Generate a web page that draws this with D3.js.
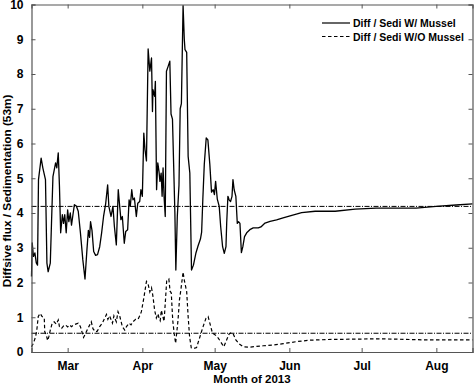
<!DOCTYPE html>
<html>
<head>
<meta charset="utf-8">
<script src="https://cdn.jsdelivr.net/npm/d3@7"></script>
<style>
  body { margin: 0; background: #fff; }
  text { font-family: "Liberation Sans", Arial, sans-serif; font-weight: bold; fill: #000; }
</style>
</head>
<body>
<div id="main-frame"></div>
<script>
// day of year 2013 (0 = Jan 1)
var withDays = [44.0, 44.3, 44.8, 45.4, 46.0, 46.5, 46.9, 48.0, 48.7, 49.8, 50.4, 50.9, 51.8, 52.3, 52.9, 54.0, 54.5, 55.1, 55.6, 56.1,
  56.8, 57.3, 57.8, 58.4, 59.0, 59.5, 60.1, 60.6, 61.2, 61.8, 62.6, 63.4, 64.3, 65.3, 66.2, 67.0, 67.6, 68.1, 68.5, 69.1,
  69.8, 70.6, 71.4, 72.3, 73.1, 73.9, 74.8, 75.6, 76.1, 77.0, 77.8, 78.4, 79.2, 80.0, 80.6, 81.1, 81.7, 82.5, 83.1, 83.9,
  84.5, 85.0, 85.6, 86.1, 86.7, 87.5, 88.1, 88.9, 89.4, 90.0, 90.6, 91.1, 91.7, 92.4, 93.1, 93.8, 94.2, 94.4, 95.1, 95.4,
  95.9, 96.4, 96.9, 97.3, 97.8, 98.2, 98.6, 99.0, 99.5, 100.0, 100.7, 101.4, 101.9, 102.5, 103.5, 103.9, 104.5, 105.2, 105.7, 106.2,
  106.9, 107.4, 107.7, 108.4, 109.0, 109.7, 110.4, 111.2, 112.2, 113.1, 114.1, 114.6, 115.1, 115.7, 116.5, 117.2, 118.0, 118.7, 119.4, 119.9,
  120.4, 121.1, 121.9, 122.5, 123.3, 124.0, 124.7, 125.0, 125.5, 126.0, 126.6, 127.2, 127.6, 128.1, 128.8, 129.4, 129.9, 130.5, 131.1, 131.7,
  132.4, 133.3, 134.6, 136.0, 138.1, 139.2, 140.9, 143.0, 145.7, 148.4, 151.3, 156.1, 161.7, 170.0, 178.3, 187.0, 195.3, 203.6, 211.9, 220.2, 227.0];
var withMussel = [2.17, 3.14, 2.75, 2.85, 2.56, 2.5, 4.96, 5.58, 5.3, 4.96, 2.56, 2.31, 2.56, 3.71, 5.05, 5.44, 5.3, 5.73, 4.77, 3.43,
  3.95, 3.7, 3.95, 3.43, 4.09, 3.75, 4.0, 3.65, 3.95, 4.24, 4.2, 4.05, 3.43, 2.65, 2.1, 2.94, 3.5, 3.3, 3.75, 3.5,
  2.89, 2.78, 2.8, 3.03, 3.43, 3.9, 4.28, 4.81, 4.19, 3.9, 4.19, 3.61, 3.08, 4.67, 4.19, 3.81, 3.9, 3.13, 3.47, 3.52,
  4.38, 4.19, 4.67, 4.38, 4.43, 3.9, 4.28, 4.33, 4.67, 4.48, 6.3, 5.82, 5.5, 8.72, 8.08, 8.46, 6.92, 7.55, 7.36, 7.79,
  4.67, 5.44, 5.2, 4.91, 5.15, 4.48, 5.3, 4.48, 3.9, 8.08, 8.22, 8.37, 6.85, 6.7, 4.0, 2.36, 3.9, 4.8, 7.0, 7.15,
  9.97, 9.0, 8.7, 8.62, 5.63, 5.15, 2.36, 2.5, 2.84, 3.05, 3.25, 3.45, 4.4, 5.4, 6.16, 6.1, 5.4, 4.6, 4.67, 4.53,
  4.91, 4.4, 4.19, 3.61, 3.03, 2.84, 3.03, 3.71, 4.48, 4.38, 4.33, 4.48, 4.96, 4.67, 4.48, 3.7, 3.75, 3.7, 2.86, 3.03,
  3.32, 3.43, 3.52, 3.57, 3.57, 3.6, 3.71, 3.76, 3.8, 3.86, 3.92, 4.01, 4.05, 4.05, 4.11, 4.14, 4.14, 4.14, 4.19, 4.23, 4.26];

var withoutDays = [44.0, 44.8, 45.7, 46.2, 46.8, 47.6, 48.4, 49.3, 49.5, 50.1, 50.7, 51.2, 51.8, 52.6, 53.4, 54.3, 55.1, 55.6, 56.5, 57.3,
  58.1, 59.0, 59.8, 60.6, 61.5, 62.6, 63.4, 64.3, 65.1, 65.6, 66.2, 67.0, 67.8, 68.8, 69.5, 70.5, 71.3, 72.3, 73.4, 74.4,
  75.1, 75.7, 76.4, 77.6, 78.2, 79.2, 79.9, 80.6, 81.7, 82.7, 83.4, 84.5, 85.3, 86.1, 87.2, 88.2, 88.9, 89.6, 90.6, 91.7,
  92.4, 93.1, 93.8, 94.4, 95.1, 95.8, 96.5, 97.0, 97.4, 97.9, 98.5, 99.0, 99.6, 100.1, 101.0, 101.5, 102.0, 102.6, 103.2, 103.8,
  104.3, 104.8, 105.4, 106.0, 106.9, 107.4, 107.9, 108.4, 109.0, 109.6, 110.3, 111.4, 112.5, 113.9, 115.2, 116.4, 117.3, 118.0, 119.1, 120.1,
  121.5, 122.9, 123.8, 125.0, 126.0, 127.0, 127.7, 128.8, 130.2, 131.9, 134.6, 137.4, 140.2, 144.3, 148.5, 154.1, 159.6, 167.1, 178.3, 187.0,
  195.3, 206.5, 220.2, 227.0];
var withoutMussel = [0.15, 0.25, 0.44, 0.63, 1.02, 1.11, 1.02, 0.98, 0.58, 0.5, 0.33, 0.44, 0.63, 0.83, 0.87, 0.8, 0.92, 0.73, 0.68, 0.75,
  0.78, 0.72, 0.78, 0.73, 0.78, 0.81, 0.83, 0.73, 0.54, 0.42, 0.5, 0.62, 0.73, 0.87, 0.67, 0.58, 0.6, 0.73, 0.83, 0.98,
  1.08, 0.94, 1.04, 0.83, 1.04, 0.87, 1.16, 1.04, 0.73, 0.63, 0.73, 0.83, 0.78, 0.87, 0.94, 0.94, 1.04, 1.16, 1.55, 2.03,
  1.95, 1.73, 1.85, 1.6, 1.2, 0.98, 1.1, 0.95, 0.9, 1.2, 1.02, 0.88, 1.5, 2.05, 2.1, 1.75, 1.7, 0.92, 0.54, 0.25,
  0.58, 0.92, 1.5, 1.8, 2.3, 2.07, 1.9, 1.73, 1.02, 0.44, 0.12, 0.1, 0.13, 0.44, 0.73, 0.97, 1.02, 0.83, 0.54, 0.5,
  0.4, 0.25, 0.15, 0.35, 0.52, 0.56, 0.52, 0.35, 0.23, 0.15, 0.14, 0.16, 0.18, 0.2, 0.24, 0.3, 0.34, 0.36, 0.37, 0.38,
  0.37, 0.35, 0.35, 0.35];

var meanWith = 4.19;
var meanWithout = 0.54;

var monthLabels = ["Mar", "Apr", "May", "Jun", "Jul", "Aug"];
var legendLabels = ["Diff / Sedi W/ Mussel", "Diff / Sedi W/O Mussel"];
var yTicks = [0, 1, 2, 3, 4, 5, 6, 7, 8, 9, 10];

var svgW = 474, svgH = 384;
var plotL = 31.5, plotR = 472.5, plotT = 4.5, plotB = 352;
var day0 = Date.UTC(2013, 0, 1);

function toDate(d) { return new Date(day0 + d * 864e5); }

var x = d3.scaleUtc()
  .domain([new Date(Date.UTC(2013, 1, 14)), new Date(Date.UTC(2013, 7, 16))])
  .range([plotL, plotR]);
var y = d3.scaleLinear().domain([0, 10]).range([plotB, plotT]);
var monthTicks = d3.range(2, 8).map(function(m) { return new Date(Date.UTC(2013, m, 1)); });

var svg = d3.select("#main-frame").append("svg")
  .attr("width", svgW)
  .attr("height", svgH);

// mean lines
[meanWith, meanWithout].forEach(function(v) {
  svg.append("line")
    .attr("x1", plotL).attr("x2", plotR)
    .attr("y1", y(v)).attr("y2", y(v))
    .style("stroke", "#000")
    .style("stroke-width", 1)
    .style("stroke-dasharray", "5,1.5,1,1.5");
});

var line = d3.line()
  .x(function(d) { return x(toDate(d[0])); })
  .y(function(d) { return y(d[1]); });

svg.append("path")
  .datum(d3.zip(withoutDays, withoutMussel))
  .attr("d", line)
  .style("fill", "none")
  .style("stroke", "#000")
  .style("stroke-width", 1.2)
  .style("stroke-dasharray", "3.5,2.5");

svg.append("path")
  .datum(d3.zip(withDays, withMussel))
  .attr("d", line)
  .style("fill", "none")
  .style("stroke", "#000")
  .style("stroke-width", 1.3)
  .style("stroke-linejoin", "round");

// axes, matlab style ticks pointing in
var tickLen = 4;
svg.append("g").attr("transform", "translate(0," + plotB + ")")
  .call(d3.axisBottom(x).tickValues(monthTicks).tickSize(-tickLen).tickPadding(9)
    .tickFormat(function(d, i) { return monthLabels[i]; }));
svg.append("g").attr("transform", "translate(0," + plotT + ")")
  .call(d3.axisTop(x).tickValues(monthTicks).tickSize(-tickLen).tickFormat(""));
svg.append("g").attr("transform", "translate(" + plotL + ",0)")
  .call(d3.axisLeft(y).tickValues(yTicks).tickSize(-tickLen).tickPadding(8));
svg.append("g").attr("transform", "translate(" + plotR + ",0)")
  .call(d3.axisRight(y).tickValues(yTicks).tickSize(-tickLen).tickFormat(""));

svg.selectAll(".domain").style("stroke", "#555").style("stroke-width", 1.2);
svg.selectAll(".tick line").style("stroke", "#555");
svg.selectAll(".tick text").style("font-size", "12px").style("font-family", "Liberation Sans, Arial, sans-serif")
  .style("font-weight", "bold").style("fill", "#000");

svg.append("text")
  .attr("x", 252)
  .attr("y", 382.5)
  .attr("text-anchor", "middle")
  .style("font-size", "11.5px")
  .text("Month of 2013");

svg.append("text")
  .attr("transform", "translate(10.5,191) rotate(-90)")
  .attr("text-anchor", "middle")
  .style("font-size", "11.8px")
  .text("Diffsive flux / Sedimentation (53m)");

// legend
legendLabels.forEach(function(lab, i) {
  var ly = 23 + i * 13.5;
  svg.append("line")
    .attr("x1", 322).attr("x2", 350)
    .attr("y1", ly).attr("y2", ly)
    .style("stroke", "#000")
    .style("stroke-width", 1.2)
    .style("stroke-dasharray", i === 0 ? null : "3.5,2.5");
  svg.append("text")
    .attr("x", 353)
    .attr("y", ly + 4)
    .style("font-size", "10.5px")
    .text(lab);
});
</script>
</body>
</html>
